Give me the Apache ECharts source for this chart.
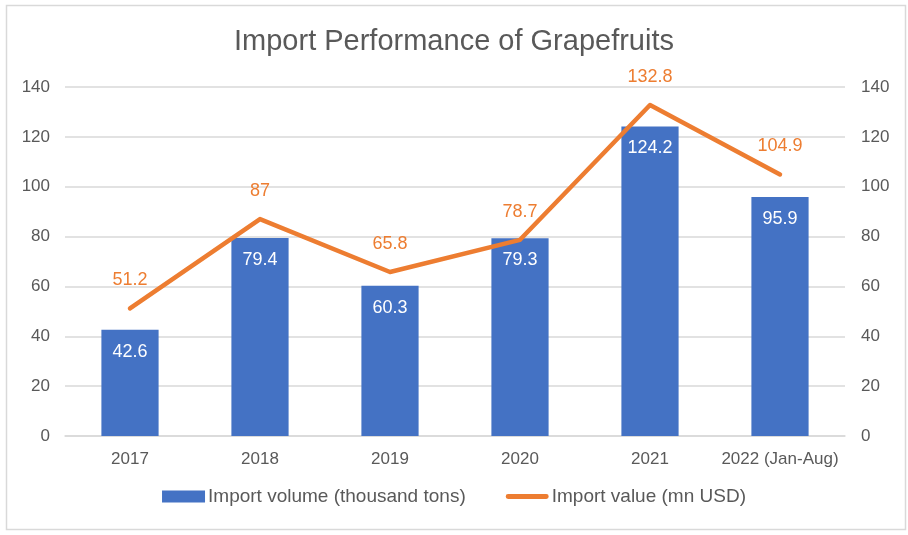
<!DOCTYPE html>
<html>
<head>
<meta charset="utf-8">
<script src="https://cdn.jsdelivr.net/npm/echarts@6/dist/echarts.min.js"></script>
<style>
  html, body { margin: 0; padding: 0; background: #fff; }
  #chart { width: 908px; height: 535px; }
</style>
</head>
<body>
<div id="chart"></div>
<script>
const years = ['2017', '2018', '2019', '2020', '2021', '2022 (Jan-Aug)']
const importVolume = [42.6, 79.4, 60.3, 79.3, 124.2, 95.9]
const importValue = [51.2, 87, 65.8, 78.7, 132.8, 104.9]
const axisTicks = { min: 0, max: 140, interval: 20 }

const font = 'Liberation Sans'
const grey = '#595959'

const dom = echarts.init(document.getElementById('chart'))
const option = {
  animation: false,
  textStyle: { fontFamily: font },
  title: {
    text: 'Import Performance of Grapefruits',
    left: 'center',
    top: 22,
    textStyle: { fontFamily: font, fontSize: 29, fontWeight: 'normal', color: grey }
  },
  graphic: [{
    type: 'rect',
    left: 4,
    top: 3,
    shape: { width: 899, height: 524 },
    style: { fill: 'none', stroke: '#d9d9d9', lineWidth: 1.5 },
    silent: true
  }],
  color: ['#4472C4', '#ED7D31'],
  legend: {
    bottom: 24,
    left: 'center',
    itemGap: 40,
    itemWidth: 43,
    itemHeight: 12,
    textStyle: { fontFamily: font, fontSize: 19, color: grey, padding: [0, 0, 0, -2] },
    data: [
      { name: 'Import volume (thousand tons)', icon: 'rect' },
      { name: 'Import value (mn USD)', icon: 'path://M2,0 L42,0 A2,2 0 0 1 42,5 L2,5 A2,2 0 0 1 2,0 Z' }
    ]
  },
  grid: { left: 65, right: 63, top: 87, bottom: 99 },
  xAxis: {
    type: 'category',
    data: years,
    axisTick: { show: false },
    axisLine: { lineStyle: { color: '#d9d9d9', width: 1.5 } },
    axisLabel: { color: grey, fontSize: 17, margin: 15, interval: 0 }
  },
  yAxis: [
    {
      type: 'value',
      min: axisTicks.min,
      max: axisTicks.max,
      interval: axisTicks.interval,
      axisLabel: { color: grey, fontSize: 17, margin: 15 },
      splitLine: { lineStyle: { color: '#d9d9d9', width: 1.5 } }
    },
    {
      type: 'value',
      min: axisTicks.min,
      max: axisTicks.max,
      interval: axisTicks.interval,
      axisLabel: { color: grey, fontSize: 17, margin: 16 },
      splitLine: { show: false }
    }
  ],
  series: [
    {
      name: 'Import volume (thousand tons)',
      type: 'bar',
      data: importVolume,
      barWidth: '44%',
      label: {
        show: true,
        position: 'insideTop',
        distance: 13,
        color: '#fff',
        fontSize: 18
      }
    },
    {
      name: 'Import value (mn USD)',
      type: 'line',
      yAxisIndex: 1,
      data: importValue,
      symbol: 'circle',
      symbolSize: 0,
      lineStyle: { width: 4.5, cap: 'round', join: 'round' },
      label: {
        show: true,
        position: 'top',
        distance: 19,
        color: '#ED7D31',
        fontSize: 18
      }
    }
  ]
}
dom.setOption(option)
</script>
</body>
</html>
